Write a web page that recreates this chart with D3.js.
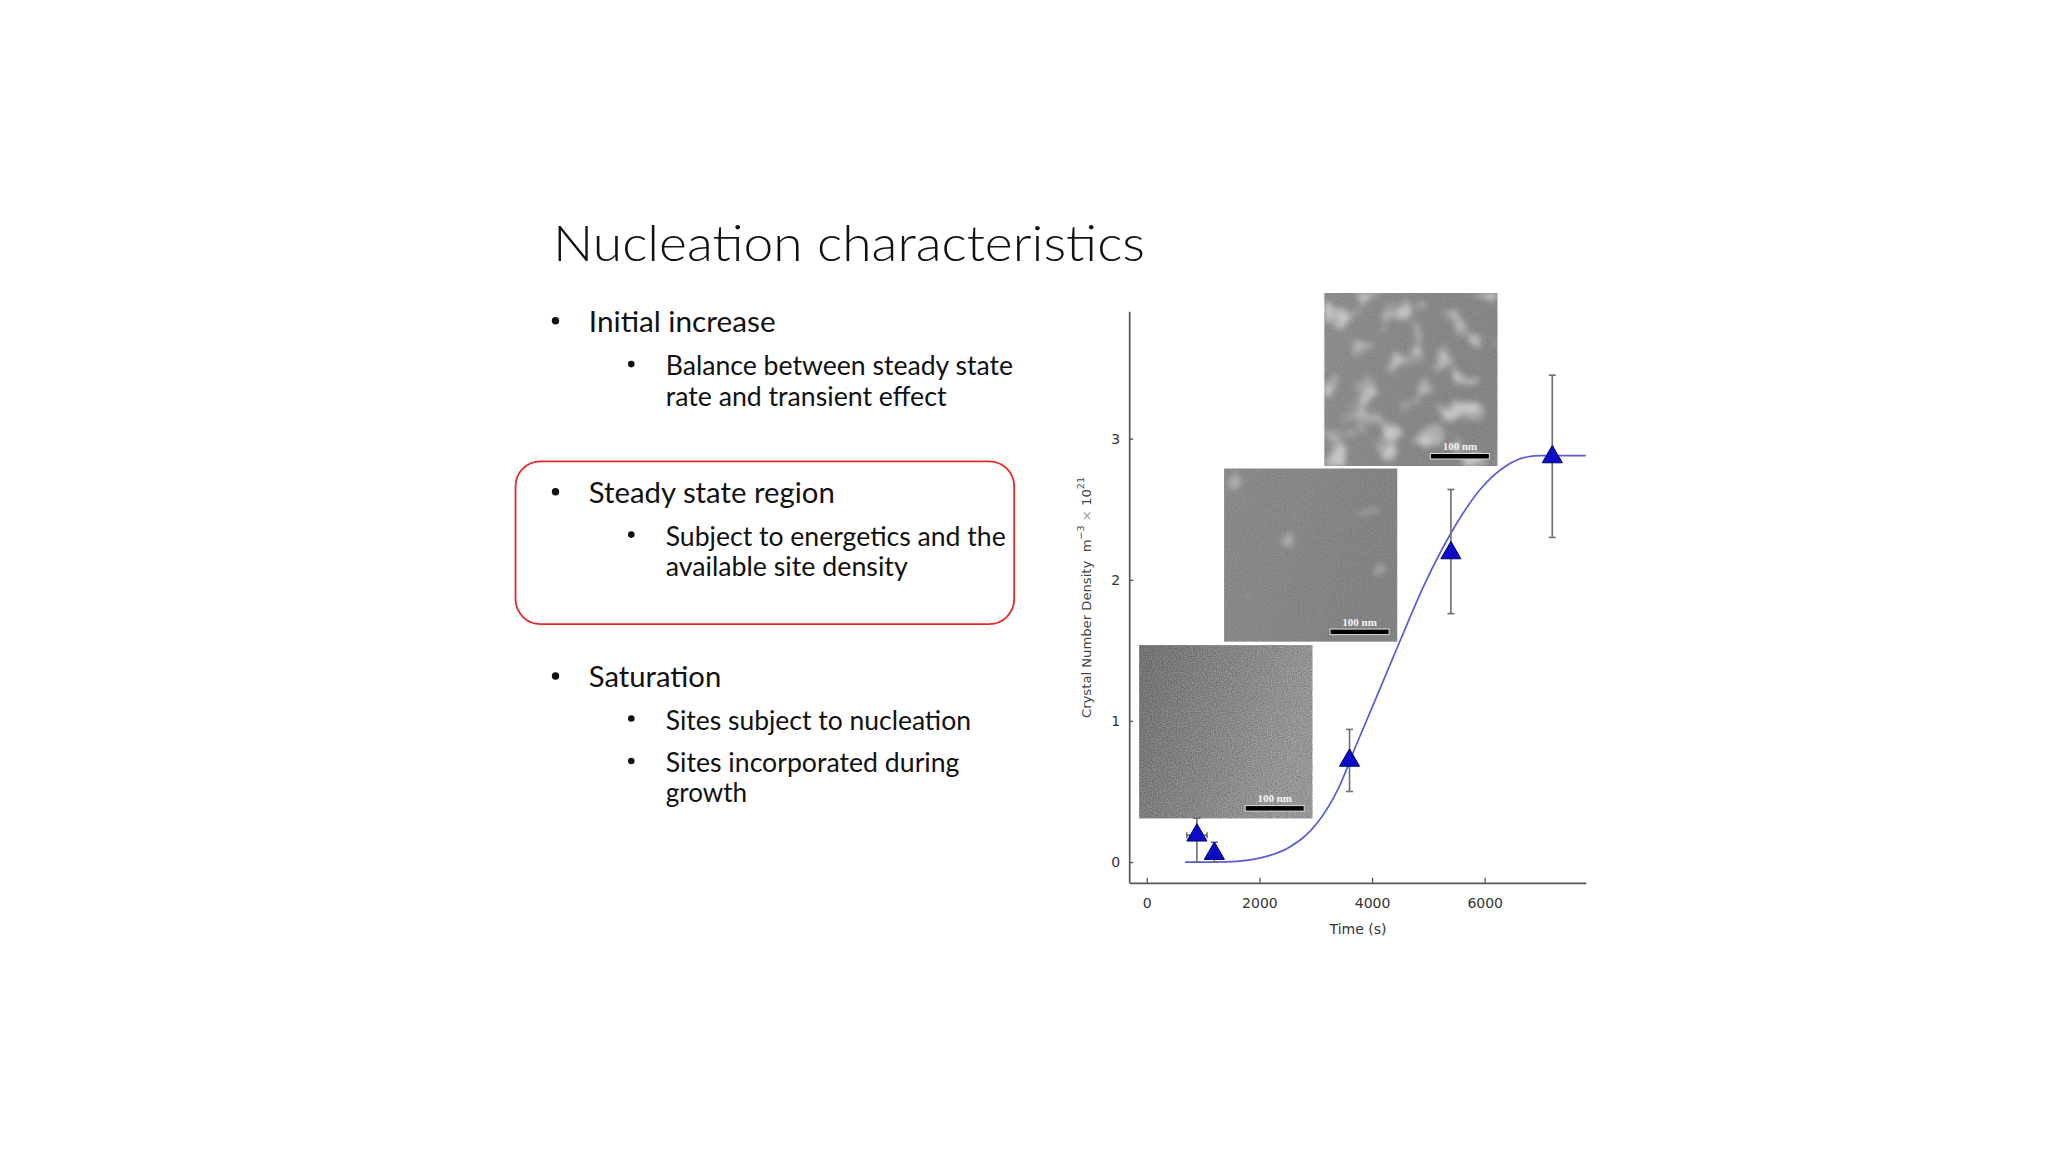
<!DOCTYPE html>
<html><head><meta charset="utf-8">
<script src="https://cdn.jsdelivr.net/npm/d3@7"></script>
<style>html,body{margin:0;padding:0;background:#fff;} svg{display:block;}</style>
</head><body><svg id="c" width="2048" height="1152"></svg>
<script>
// ---------- data ----------
const slideTitle = "Nucleation characteristics";
const lineTexts = ["Initial increase", "Balance between steady state", "rate and transient effect",
  "Steady state region", "Subject to energetics and the", "available site density",
  "Saturation", "Sites subject to nucleation", "Sites incorporated during", "growth"];
const lineLevels = [1, 2, 2, 1, 2, 2, 1, 2, 2, 2];
const lineBullets = [true, true, false, true, true, false, true, true, true, false];

const sampleTimes = [890, 1200, 3600, 5400, 7200];            // s
const sampleDensity = [0.19, 0.06, 0.72, 2.19, 2.87];          // x10^21 m^-3
const densityLow = [0.00, 0.00, 0.50, 1.76, 2.30];
const densityHigh = [0.31, 0.14, 0.94, 2.64, 3.45];
const timeErr = [180, 0, 0, 0, 0];

const fitTimes = [680, 1200, 1600, 2000, 2500, 3040, 3400, 3730, 4080, 4500, 4910, 5400, 5920, 6390, 6750, 7000, 7795];
const fitDensity = [0, 0, 0.005, 0.028, 0.098, 0.283, 0.52, 0.84, 1.17, 1.57, 1.95, 2.33, 2.64, 2.81, 2.87, 2.88, 2.88];

const xTicks = [0, 2000, 4000, 6000];
const yTicks = [0, 1, 2, 3];
const xLabel = "Time (s)";
const yLabelParts = ["Crystal Number Density  m", "\u22123", " \u00d7 ", "10", "21"];
const scaleBarText = "100 nm";

// ---------- layout ----------
const svg = d3.select("#c");
svg.append("rect").attr("width", 2048).attr("height", 1152).attr("fill", "#ffffff");
const defs = svg.append("defs");

const slideFont = "Lato, 'Open Sans', sans-serif";
svg.append("text").attr("x", 553).attr("y", 261)
  .attr("font-family", slideFont).attr("font-weight", 300).attr("font-size", 50)
  .attr("fill", "#111").attr("textLength", 592).attr("lengthAdjust", "spacingAndGlyphs")
  .text(slideTitle);

// red rounded box
svg.append("rect").attr("x", 515.5).attr("y", 461.3).attr("width", 498.7).attr("height", 162.8)
  .attr("rx", 25).attr("ry", 25).attr("fill", "none").attr("stroke", "#e12a2a").attr("stroke-width", 1.8);

const baselines = [331.8, 375.1, 405.8, 502.7, 545.6, 576, 687, 729.5, 772, 801.6];
const widths = [186.8, 347.4, 280.8, 246, 340, 242, 132.4, 305.3, 293.8, 81.4];
const textX = {1: 588.8, 2: 665.7};
const bulletX = {1: 555.5, 2: 631.3};
const fontSize = {1: 28.3, 2: 26.8};
const bulletR = {1: 3.7, 2: 3.3};

lineTexts.forEach((t, i) => {
  const lv = lineLevels[i];
  svg.append("text").attr("x", textX[lv]).attr("y", baselines[i])
    .attr("font-family", slideFont).attr("font-size", fontSize[lv]).attr("fill", "#111")
    .attr("textLength", widths[i]).attr("lengthAdjust", "spacingAndGlyphs").text(t);
  if (lineBullets[i]) {
    svg.append("circle").attr("cx", bulletX[lv]).attr("cy", baselines[i] - 11)
      .attr("r", bulletR[lv]).attr("fill", "#111");
  }
});

// ---------- chart ----------
const x = d3.scaleLinear().domain([-312, 7795]).range([1129.2, 1585.8]);
const y = d3.scaleLinear().domain([-0.147, 3.903]).range([882.8, 311.2]);

// SEM micrograph insets (decorative texture)
const insets = [
  {x: 1139.2, y: 645.1, c0: "#6c6c6c", c1: "#a2a2a2", freq: 0.04, oct: 1, seed: 3, slope: 4, icpt: -30, blob: "#cfcfcf", grain: 0.34, blur: 2},
  {x: 1224.1, y: 468.6, c0: "#8c8c8c", c1: "#838383", freq: 0.036, oct: 1, seed: 11, slope: 7, icpt: -4.95, blob: "#d4d4d4", grain: 0.16, blur: 2.2},
  {x: 1324.4, y: 293.0, c0: "#8e8e8e", c1: "#868686", freq: 0.04, oct: 2, seed: 5, slope: 4.5, icpt: -2.35, blob: "#d2d2d2", grain: 0.14, blur: 2.4}
];
const S = 173;
insets.forEach((d, i) => {
  const lg = defs.append("linearGradient").attr("id", "lg" + i).attr("x1", 0).attr("y1", 0).attr("x2", 1).attr("y2", 0.3);
  lg.append("stop").attr("offset", 0).attr("stop-color", d.c0);
  lg.append("stop").attr("offset", 1).attr("stop-color", d.c1);

  const f = defs.append("filter").attr("id", "sem" + i).attr("filterUnits", "userSpaceOnUse")
    .attr("x", d.x).attr("y", d.y).attr("width", S).attr("height", S)
    .attr("color-interpolation-filters", "sRGB");
  f.append("feTurbulence").attr("type", "fractalNoise").attr("baseFrequency", 0.8)
    .attr("numOctaves", 1).attr("seed", d.seed + 40).attr("result", "g");
  f.append("feColorMatrix").attr("in", "g").attr("type", "matrix")
    .attr("values", `1 0 0 0 0  1 0 0 0 0  1 0 0 0 0  0 0 0 0 ${d.grain}`).attr("result", "grain");
  f.append("feTurbulence").attr("type", "fractalNoise").attr("baseFrequency", d.freq)
    .attr("numOctaves", d.oct).attr("seed", d.seed).attr("result", "t");
  const c = d3.color(d.blob);
  f.append("feColorMatrix").attr("in", "t").attr("type", "matrix")
    .attr("values", `0 0 0 0 ${c.r/255}  0 0 0 0 ${c.g/255}  0 0 0 0 ${c.b/255}  ${d.slope} 0 0 0 ${d.icpt}`)
    .attr("result", "b");
  f.append("feComponentTransfer").attr("in", "b").attr("result", "bc")
    .append("feFuncA").attr("type", "linear").attr("slope", 0.85).attr("intercept", 0);
  f.append("feGaussianBlur").attr("in", "bc").attr("stdDeviation", d.blur).attr("result", "bb");
  const m = f.append("feMerge");
  m.append("feMergeNode").attr("in", "grain");
  m.append("feMergeNode").attr("in", "bb");

  svg.append("rect").attr("x", d.x).attr("y", d.y).attr("width", S).attr("height", S)
    .attr("fill", `url(#lg${i})`);
  svg.append("rect").attr("x", d.x).attr("y", d.y).attr("width", S).attr("height", S)
    .attr("fill", "#888").attr("filter", `url(#sem${i})`);
  const g = svg.append("g").attr("transform", `translate(${d.x},${d.y})`);
  g.append("rect").attr("x", 106).attr("y", 160.5).attr("width", 59).attr("height", 5.5)
    .attr("fill", "#000").attr("stroke", "#ddd").attr("stroke-width", 1);
  g.append("text").attr("x", 135.5).attr("y", 157).attr("text-anchor", "middle")
    .attr("font-family", "'Liberation Serif', serif").attr("font-weight", "bold")
    .attr("font-size", 11).attr("fill", "#f4f4f4").text(scaleBarText);
});

// axes
const axisColor = "#555";
const gx = svg.append("g").attr("transform", `translate(0,${y.range()[0]})`)
  .call(d3.axisBottom(x).tickValues(xTicks).tickSize(-5).tickSizeOuter(0).tickPadding(15).tickFormat(d3.format("d")));
const gy = svg.append("g").attr("transform", `translate(${x.range()[0]},0)`)
  .call(d3.axisLeft(y).tickValues(yTicks).tickSize(-4).tickSizeOuter(0).tickPadding(9).tickFormat(d3.format("d")));
[gx, gy].forEach(g => {
  g.select(".domain").attr("stroke", axisColor).attr("stroke-width", 1.7);
  g.selectAll(".tick line").attr("stroke", axisColor).attr("stroke-width", 1.3);
  g.selectAll(".tick text").attr("font-family", "'DejaVu Sans', sans-serif").attr("font-size", 14).attr("fill", "#333");
});

svg.append("text").attr("x", 1358).attr("y", 934).attr("text-anchor", "middle")
  .attr("font-family", "'DejaVu Sans', sans-serif").attr("font-size", 14).attr("fill", "#333").text(xLabel);

const yl = svg.append("text").attr("transform", "translate(1090.5,718) rotate(-90)")
  .attr("font-family", "'DejaVu Sans', sans-serif").attr("font-size", 13).attr("fill", "#444")
  .attr("textLength", 241).attr("lengthAdjust", "spacingAndGlyphs");
yl.append("tspan").attr("xml:space", "preserve").text(yLabelParts[0]);
yl.append("tspan").attr("dy", -6.5).attr("font-size", 9.5).text(yLabelParts[1]);
yl.append("tspan").attr("dy", 6.5).attr("fill", "#999").text(yLabelParts[2]);
yl.append("tspan").text(yLabelParts[3]);
yl.append("tspan").attr("dy", -6.5).attr("font-size", 9.5).text(yLabelParts[4]);

// fitted curve
const line = d3.line().x((d, i) => x(fitTimes[i])).y((d, i) => y(fitDensity[i])).curve(d3.curveMonotoneX);
svg.append("path").attr("d", line(fitTimes)).attr("fill", "none")
  .attr("stroke", "#5a5adc").attr("stroke-width", 1.7);

// error bars
const eb = svg.append("g").attr("stroke", "#6e6e6e").attr("stroke-width", 1.6).attr("fill", "none");
sampleTimes.forEach((t, i) => {
  eb.append("line").attr("x1", x(t)).attr("x2", x(t)).attr("y1", y(densityLow[i])).attr("y2", y(densityHigh[i]));
  [densityLow[i], densityHigh[i]].forEach(v => {
    eb.append("line").attr("x1", x(t) - 3.5).attr("x2", x(t) + 3.5).attr("y1", y(v)).attr("y2", y(v));
  });
  if (timeErr[i] > 0) {
    eb.append("line").attr("x1", x(t - timeErr[i])).attr("x2", x(t + timeErr[i]))
      .attr("y1", y(sampleDensity[i])).attr("y2", y(sampleDensity[i]));
    [t - timeErr[i], t + timeErr[i]].forEach(tt => {
      eb.append("line").attr("x1", x(tt)).attr("x2", x(tt))
        .attr("y1", y(sampleDensity[i]) - 3).attr("y2", y(sampleDensity[i]) + 3);
    });
  }
});

// triangle markers
svg.append("g").selectAll("path").data(sampleTimes).join("path")
  .attr("transform", (t, i) => `translate(${x(t)},${y(sampleDensity[i])})`)
  .attr("d", d3.symbol(d3.symbolTriangle, 175)())
  .attr("fill", "#0b0bc8").attr("stroke", "#00006e").attr("stroke-width", 1);
</script>
</body></html>
